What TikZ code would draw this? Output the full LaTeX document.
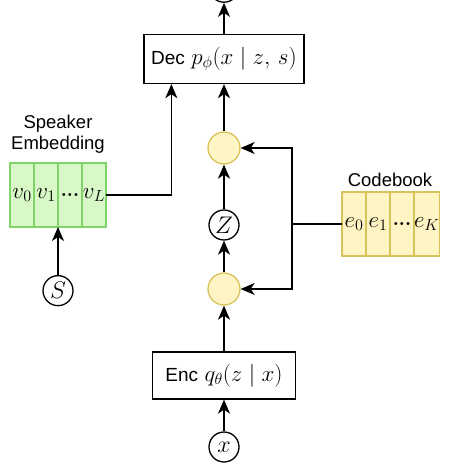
\RequirePackage{fix-cm}
\documentclass[tikz,border=0pt]{standalone}
\usepackage[no-math]{fontspec}
\setmainfont{Liberation Sans}
\usepackage{tikz}
\usetikzlibrary{arrows.meta,positioning,calc}
\definecolor{cbfill}{HTML}{FFF4C4}
\definecolor{cbdraw}{HTML}{D8C35A}
\definecolor{spkfill}{HTML}{D8F8C8}
\definecolor{spkdraw}{HTML}{80D468}
\newcommand{\plaintxt}[1]{{\fontsize{19}{22}\selectfont #1}}
\newcommand{\celldots}{{\fontsize{19}{22}\selectfont\boldmath$...$}}
\tikzset{
  vq/block/.style={draw, line width=1.3pt, minimum width=160pt, minimum height=49pt, inner sep=0pt, font=\fontsize{23}{26}\selectfont},
  vq/var/.style={draw, circle, line width=1.3pt, minimum size=30pt, inner sep=0pt, font=\fontsize{24}{26}\selectfont},
  vq/quant/.style={draw=cbdraw, fill=cbfill, circle, line width=1.3pt, minimum size=32pt, inner sep=0pt},
  vq/cell/.style={draw, line width=1.1pt, minimum width=24pt, minimum height=64pt, inner sep=0pt, outer sep=0pt, font=\fontsize{23}{26}\selectfont},
  vq/spk/.style={vq/cell, draw=spkdraw, fill=spkfill},
  vq/code/.style={vq/cell, draw=cbdraw, fill=cbfill},
  vq/label/.style={align=center, font=\fontsize{18.5}{21}\selectfont},
  vq/line/.style={line width=1.4pt},
  vq/arrow/.style={vq/line, -{Stealth[length=14pt,width=12pt,inset=4pt]}}
}
\begin{document}
\begin{tikzpicture}[x=1pt, y=1pt]
  \useasboundingbox (0,0) rectangle (474,474);

  % main column
  \node[vq/var] (xin) at (224,27) {$x$};
  \node[vq/block, minimum width=143pt, minimum height=47pt, above=31.7pt of xin] (enc) {\plaintxt{Enc} $q_{\theta}(z \mid x)$};
  \node[vq/quant, above=45.7pt of enc] (qin) {};
  \node[vq/var, above=31.7pt of qin] (z) {$Z$};
  \node[vq/quant, above=44.7pt of z] (qout) {};
  \node[vq/block, above=47.2pt of qout] (dec) {\plaintxt{Dec} $p_{\phi}(x \mid z,\, s)$};
  \node[vq/var, above=31pt of dec] (xout) {};
  \coordinate (decin) at ($(dec.south west)+(28,0)$);

  % speaker embedding
  \node[vq/spk] (v0) at (22,279) {$v_0$};
  \node[vq/spk, right=0pt of v0] (v1) {$v_1$};
  \node[vq/spk, right=0pt of v1] (vdots) {\celldots};
  \node[vq/spk, right=0pt of vdots] (vL) {$v_L$};
  \node[vq/label, above=6pt of v1.north east] (spklbl) {Speaker\\Embedding};
  \node[vq/var, below=48pt of v1.south east] (S) {$S$};

  % codebook
  \node[vq/code] (e0) at (354,250) {$e_0$};
  \node[vq/code, right=0pt of e0] (e1) {$e_1$};
  \node[vq/code, right=0pt of e1] (edots) {\celldots};
  \node[vq/code, right=0pt of edots] (eK) {$e_K$};
  \node[vq/label, above=2pt of e1.north east] (cblbl) {Codebook};

  \draw[vq/arrow] (xin) -- (enc);
  \draw[vq/arrow] (enc) -- (qin);
  \draw[vq/arrow] (qin) -- (z);
  \draw[vq/arrow] (z) -- (qout);
  \draw[vq/arrow] (qout) -- (dec);
  \draw[vq/arrow] (dec) -- (xout);
  \draw[vq/arrow] (S) -- (v1.south east);
  \draw[vq/arrow] (vL.east) -| (decin);
  \draw[vq/line] (e0.west) -- ++(-50,0) coordinate (cbj);
  \draw[vq/arrow] (cbj) |- (qout);
  \draw[vq/arrow] (cbj) |- (qin);
\end{tikzpicture}
\end{document}
